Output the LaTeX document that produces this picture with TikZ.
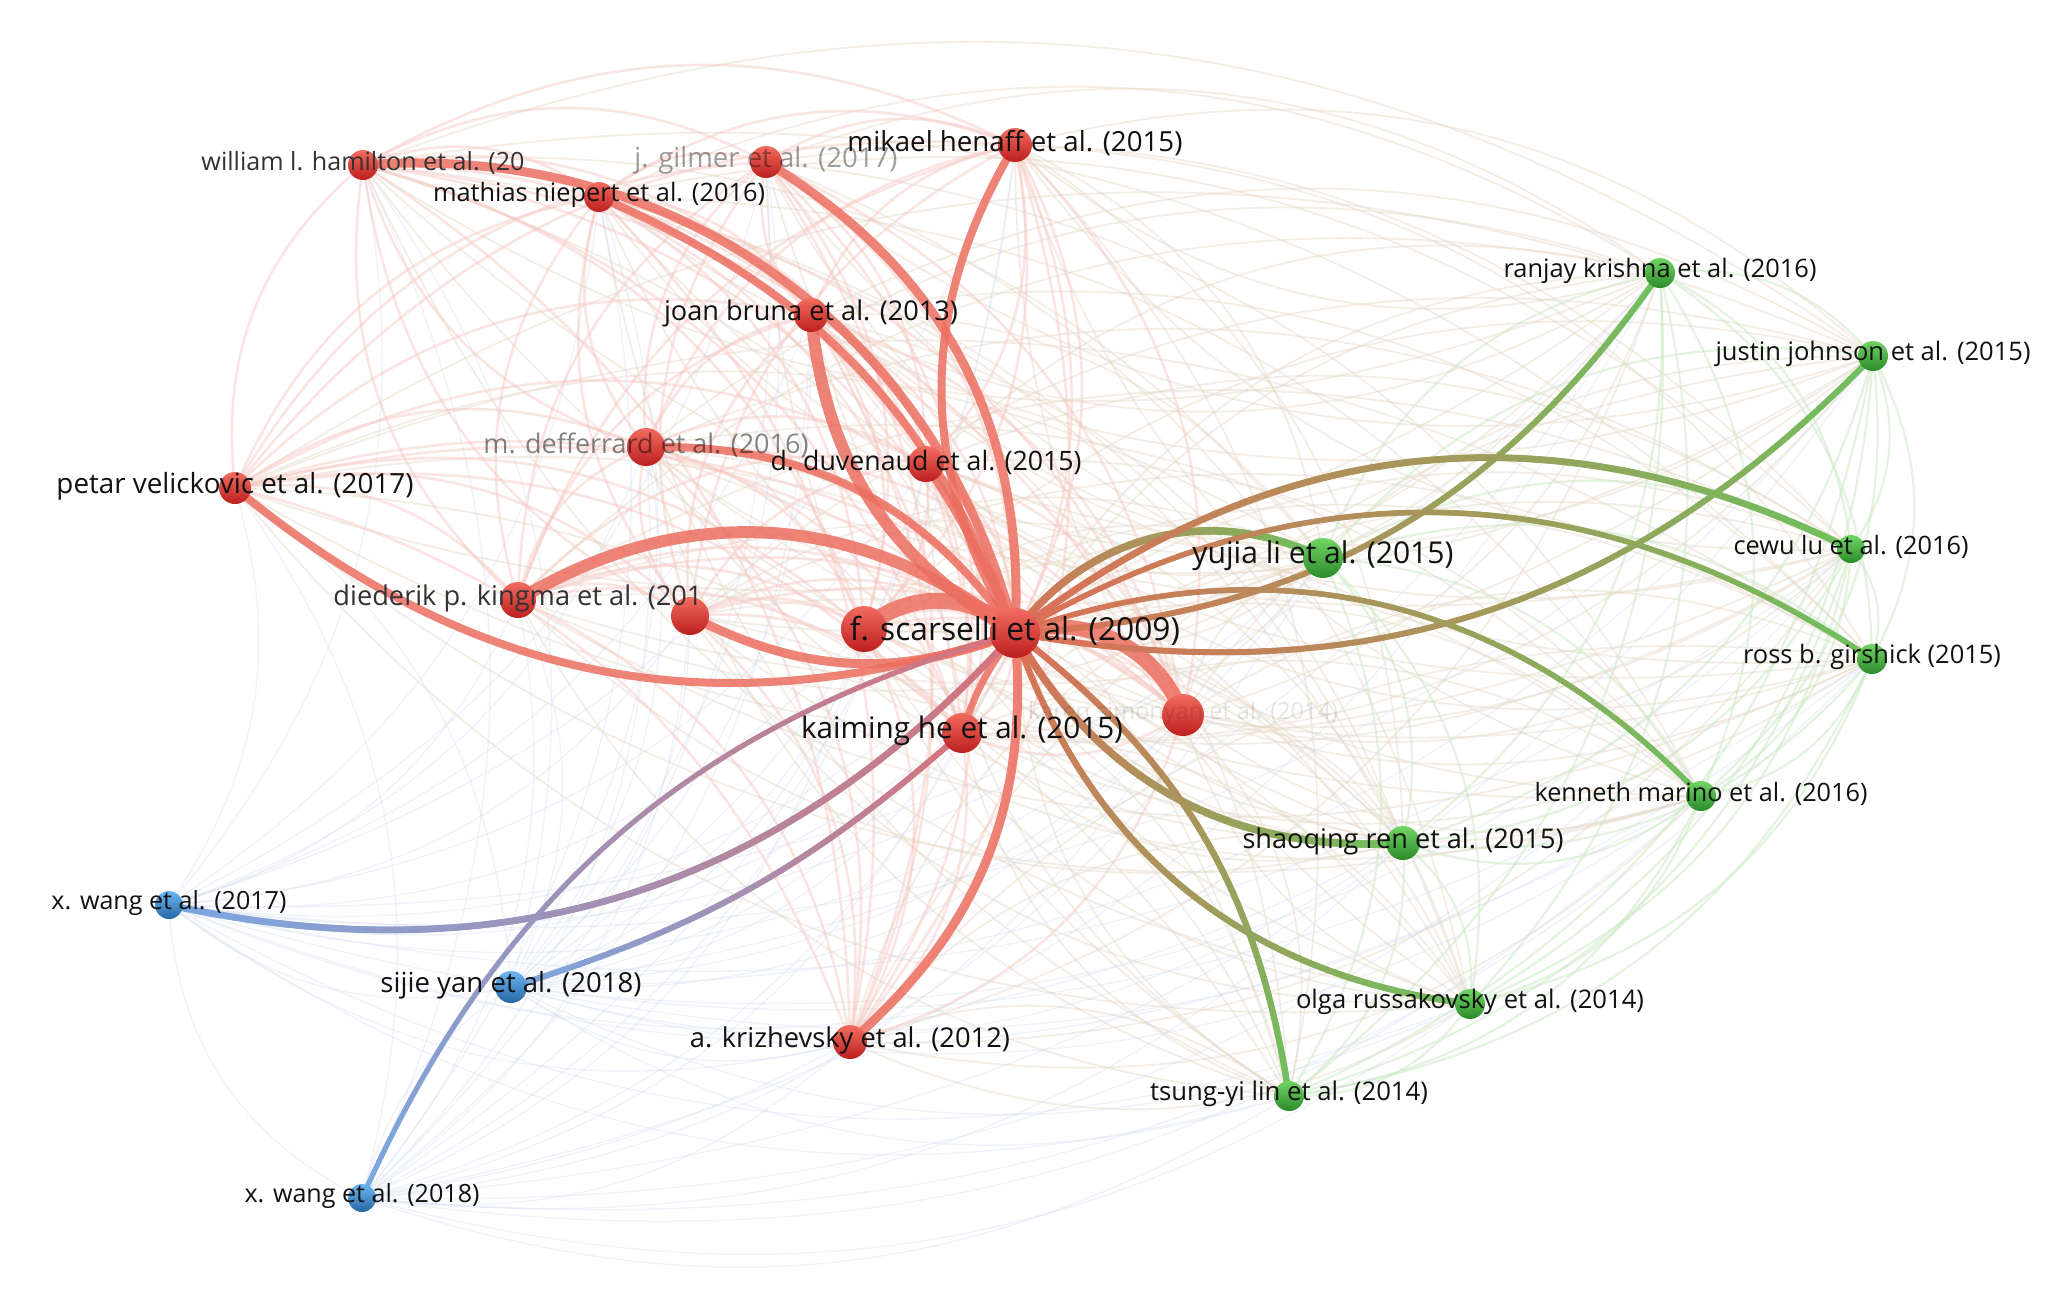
\documentclass[tikz,border=0pt]{standalone}
\usepackage{fontspec}
\setmainfont{Open Sans}
\usepackage{graphicx}
\usetikzlibrary{decorations.markings}
\definecolor{redE}{HTML}{EC6E60}
\definecolor{gradR}{HTML}{DE6E58}
\definecolor{gradG}{HTML}{6CC25E}
\definecolor{gradB}{HTML}{78A8E2}
\definecolor{gradRB}{HTML}{D87278}
\definecolor{fR}{HTML}{F6C6C0}
\definecolor{fG}{HTML}{CDEAC6}
\definecolor{fB}{HTML}{D2DDF0}
\definecolor{fX}{HTML}{E6D9C6}
\definecolor{nRt}{HTML}{F26C60}
\definecolor{nRb}{HTML}{BC1E1E}
\definecolor{nGt}{HTML}{70D564}
\definecolor{nGb}{HTML}{2C8A2A}
\definecolor{nBt}{HTML}{6CB6F2}
\definecolor{nBb}{HTML}{2666A6}
\definecolor{labK}{HTML}{111111}
\definecolor{labD}{HTML}{333333}
\tikzset{
  redthick/.style={draw=redE, opacity=0.85},
  faintR/.style={draw=fR, line width=1.3pt, opacity=0.45},
  faintG/.style={draw=fG, line width=1.1pt, opacity=0.55},
  faintB/.style={draw=fB, line width=0.7pt, opacity=0.35},
  faintX/.style={draw=fX, line width=0.9pt, opacity=0.45},
  gradedge/.style n args={3}{postaction={decorate},decoration={markings,
     mark=between positions 0 and 1 step 1pt with {%
       \pgfmathtruncatemacro\gp{\pgfkeysvalueof{/pgf/decoration/mark info/distance from start}/\pgfdecoratedpathlength*100}%
       \fill[#3!\gp!#2] (0,0) circle (#1);}}},
  nodeR/.style={circle, inner sep=0pt, top color=nRt, bottom color=nRb, draw=none},
  nodeG/.style={circle, inner sep=0pt, top color=nGt, bottom color=nGb, draw=none},
  nodeB/.style={circle, inner sep=0pt, top color=nBt, bottom color=nBb, draw=none},
  lab/.style={inner sep=0pt, anchor=center, yshift=1pt},
}
\newcommand\lbl[4]{\node[lab,text=#4] (#1-l) at (#1) {\resizebox{#2pt}{!}{#3}};}
\newcommand\flbl[4]{\node[lab,text=black,text opacity=#4] (#1-l) at (#1) {\resizebox{#2pt}{!}{#3}};}
\begin{document}
\begin{tikzpicture}[x=0.5pt,y=0.5pt]
\useasboundingbox (0,0) rectangle (2050,-1314);
\fill[white] (0,0) rectangle (2050,-1314);
% positions
\coordinate (scar) at (1015,-633);
\coordinate (sc2) at (864,-629);
\coordinate (ham) at (363,-165);
\coordinate (gil) at (766,-162);
\coordinate (hen) at (1015,-145);
\coordinate (nie) at (599,-197);
\coordinate (bru) at (811,-315);
\coordinate (def) at (646,-447);
\coordinate (duv) at (926,-464);
\coordinate (vel) at (235,-488);
\coordinate (kin) at (518,-600);
\coordinate (un2) at (690,-616);
\coordinate (kai) at (962,-733);
\coordinate (sim) at (1183,-715);
\coordinate (kri) at (850,-1042);
\coordinate (xw17) at (169,-905);
\coordinate (sij) at (511,-987);
\coordinate (xw18) at (362,-1198);
\coordinate (yuj) at (1323,-558);
\coordinate (ran) at (1660,-273);
\coordinate (jus) at (1873,-356);
\coordinate (cew) at (1851,-549);
\coordinate (ros) at (1872,-659);
\coordinate (mar) at (1701,-796);
\coordinate (sha) at (1403,-843);
\coordinate (olg) at (1470,-1004);
\coordinate (tsu) at (1289,-1096);
\def\RL{vel,kin,un2,def,ham,nie,bru,gil,hen,duv,sc2,scar,sim,kai,kri}
\def\GL{yuj,ran,jus,cew,ros,mar,sha,olg,tsu}
\def\BL{xw17,sij,xw18}
% faint edges
\foreach \a [count=\i] in \RL {
  \foreach \b [count=\j] in \GL {
    \pgfmathtruncatemacro\pp{mod(\i+\j,2)}
    \ifnum\pp=0 \draw[faintX] (\a) to[bend left=28] (\b); \else \draw[faintX] (\a) to[bend right=28] (\b); \fi
  }
}
\foreach \a [count=\i] in \BL {
  \foreach \b [count=\j] in \RL {
    \draw[faintB] (\a) to[bend right=25] (\b);
  }
  \foreach \b [count=\j] in \GL {
    \draw[faintB] (\a) to[bend right=25] (\b);
  }
}
\draw[faintB] (xw17) to[bend right=25] (sij);
\draw[faintB] (xw17) to[bend right=30] (xw18);
\draw[faintB] (sij) to[bend right=20] (xw18);
\foreach \a [count=\i] in \RL {
  \foreach \b [count=\j] in \RL {
    \ifnum\j>\i \draw[faintR] (\a) to[bend left=28] (\b); \fi
  }
}
\foreach \a [count=\i] in \GL {
  \foreach \b [count=\j] in \GL {
    \ifnum\j>\i \draw[faintG] (\a) to[bend left=28] (\b); \fi
  }
}
% thick red edges
\draw[redthick, line width=4.5pt] (ham) to[bend left=40] (scar);
\draw[redthick, line width=4pt] (nie) to[bend left=23] (scar);
\draw[redthick, line width=4.5pt] (gil) to[bend left=31] (scar);
\draw[redthick, line width=4pt] (hen) to[bend right=31] (scar);
\draw[redthick, line width=6pt] (bru) to[bend right=27] (scar);
\draw[redthick, line width=4pt] (def) to[bend left=28] (scar);
\draw[redthick, line width=4pt] (duv) to[bend left=5] (scar);
\draw[redthick, line width=6pt] (kin) to[bend left=35] (scar);
\draw[redthick, line width=4pt] (vel) to[bend right=29] (scar);
\draw[redthick, line width=4.5pt] (un2) to[bend right=24] (scar);
\draw[redthick, line width=8pt] (sc2) to[bend left=43] (scar);
\draw[redthick, line width=3.5pt] (kai) to[bend left=10] (scar);
\draw[redthick, line width=7.5pt] (sim) to[bend right=43] (scar);
\draw[redthick, line width=4.5pt] (kri) to[bend right=27] (scar);
% gradient edges to green cluster
\path[gradedge={2pt}{gradR}{gradG}] (scar) to[bend left=40] (yuj);
\path[gradedge={1.6pt}{gradR}{gradG}] (scar) to[bend right=26] (ran);
\path[gradedge={1.6pt}{gradR}{gradG}] (scar) to[bend right=28] (jus);
\path[gradedge={1.8pt}{gradR}{gradG}] (scar) to[bend left=32] (cew);
\path[gradedge={1.5pt}{gradR}{gradG}] (scar) to[bend left=32] (ros);
\path[gradedge={1.5pt}{gradR}{gradG}] (scar) to[bend left=33] (mar);
\path[gradedge={2pt}{gradR}{gradG}] (scar) to[bend right=32] (sha);
\path[gradedge={1.7pt}{gradR}{gradG}] (scar) to[bend right=32] (olg);
\path[gradedge={1.7pt}{gradR}{gradG}] (scar) to[bend left=22] (tsu);
% gradient edges from blue cluster
\path[gradedge={1.8pt}{gradB}{gradRB}] (xw17) to[bend right=30] (scar);
\path[gradedge={1.6pt}{gradB}{gradRB}] (sij) to[bend right=12] (kai);
\path[gradedge={1.4pt}{gradB}{gradRB}] (xw18) to[bend left=25] (scar);
% nodes
\node[nodeR, minimum size=25pt] (scar-n) at (scar) {};
\node[nodeR, minimum size=23pt] (sc2-n) at (sc2) {};
\node[nodeR, minimum size=15pt] (ham-n) at (ham) {};
\node[nodeR, minimum size=16pt] (gil-n) at (gil) {};
\node[nodeR, minimum size=17pt] (hen-n) at (hen) {};
\node[nodeR, minimum size=15pt] (nie-n) at (nie) {};
\node[nodeR, minimum size=17pt] (bru-n) at (bru) {};
\node[nodeR, minimum size=19pt] (def-n) at (def) {};
\node[nodeR, minimum size=18pt] (duv-n) at (duv) {};
\node[nodeR, minimum size=16pt] (vel-n) at (vel) {};
\node[nodeR, minimum size=18pt] (kin-n) at (kin) {};
\node[nodeR, minimum size=19pt] (un2-n) at (un2) {};
\node[nodeR, minimum size=20pt] (kai-n) at (kai) {};
\node[nodeR, minimum size=21pt] (sim-n) at (sim) {};
\node[nodeR, minimum size=17pt] (kri-n) at (kri) {};
\node[nodeB, minimum size=14pt] (xw17-n) at (xw17) {};
\node[nodeB, minimum size=16pt] (sij-n) at (sij) {};
\node[nodeB, minimum size=14pt] (xw18-n) at (xw18) {};
\node[nodeG, minimum size=20pt] (yuj-n) at (yuj) {};
\node[nodeG, minimum size=15pt] (ran-n) at (ran) {};
\node[nodeG, minimum size=15pt] (jus-n) at (jus) {};
\node[nodeG, minimum size=14pt] (cew-n) at (cew) {};
\node[nodeG, minimum size=15pt] (ros-n) at (ros) {};
\node[nodeG, minimum size=15pt] (mar-n) at (mar) {};
\node[nodeG, minimum size=17pt] (sha-n) at (sha) {};
\node[nodeG, minimum size=15pt] (olg-n) at (olg) {};
\node[nodeG, minimum size=15pt] (tsu-n) at (tsu) {};
% faded labels (semi-transparent text)
\flbl{gil}{131.5}{j. gilmer et al. (2017)}{0.38}
\flbl{def}{162.5}{m. defferrard et al. (2016)}{0.48}
\flbl{sim}{155}{karen simonyan et al. (2014)}{0.1}
% labels
\lbl{ham}{161.5}{william l. hamilton et al. (20}{labD}
\lbl{hen}{167.5}{mikael henaff et al. (2015)}{labK}
\lbl{nie}{166}{mathias niepert et al. (2016)}{labK}
\lbl{bru}{147}{joan bruna et al. (2013)}{labK}
\lbl{duv}{155.5}{d. duvenaud et al. (2015)}{labK}
\lbl{vel}{178.5}{petar velickovic et al. (2017)}{labK}
\lbl{kin}{184.5}{diederik p. kingma et al. (201}{labD}
\lbl{scar}{165}{f. scarselli et al. (2009)}{labK}
\lbl{kai}{161}{kaiming he et al. (2015)}{labK}
\lbl{kri}{160}{a. krizhevsky et al. (2012)}{labK}
\lbl{xw17}{117.5}{x. wang et al. (2017)}{labK}
\lbl{sij}{130.5}{sijie yan et al. (2018)}{labK}
\lbl{xw18}{117.5}{x. wang et al. (2018)}{labK}
\lbl{yuj}{130.5}{yujia li et al. (2015)}{labK}
\lbl{ran}{156.5}{ranjay krishna et al. (2016)}{labK}
\lbl{jus}{157.5}{justin johnson et al. (2015)}{labK}
\lbl{cew}{117.5}{cewu lu et al. (2016)}{labK}
\lbl{ros}{129}{ross b. girshick (2015)}{labK}
\lbl{mar}{166.5}{kenneth marino et al. (2016)}{labK}
\lbl{sha}{160.5}{shaoqing ren et al. (2015)}{labK}
\lbl{olg}{174}{olga russakovsky et al. (2014)}{labK}
\lbl{tsu}{139}{tsung-yi lin et al. (2014)}{labK}
\end{tikzpicture}
\end{document}
